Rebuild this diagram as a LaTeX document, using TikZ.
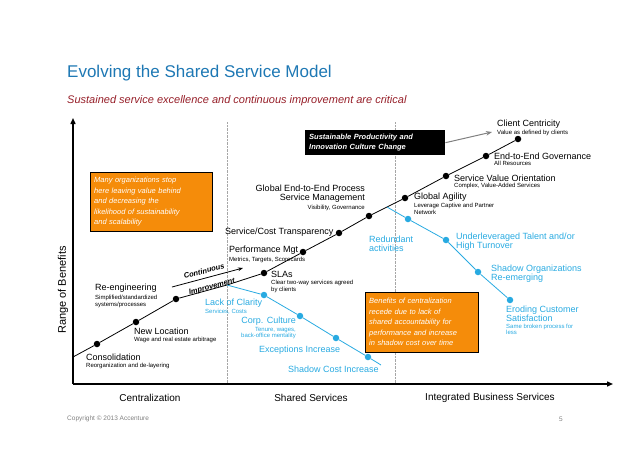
\documentclass[tikz,border=0pt]{standalone}
\usepackage{fontspec}
\setmainfont{Liberation Sans}
\usetikzlibrary{arrows.meta}
\definecolor{ttl}{RGB}{30,120,180}
\definecolor{sub}{RGB}{150,30,40}
\definecolor{cy}{RGB}{40,170,225}
\definecolor{org}{RGB}{245,140,10}
\begin{document}
\begin{tikzpicture}[x=1pt,y=-1pt,
 bd/.style={circle,fill=black,inner sep=0pt,minimum size=6.5pt},
 cd/.style={circle,fill=cy,inner sep=0pt,minimum size=6.5pt},
 lb/.style={inner sep=0pt,align=left,font=\fontsize{9}{9}\selectfont},
 sl/.style={inner sep=0pt,align=left,font=\fontsize{6}{6.5}\selectfont},
 cl/.style={inner sep=0pt,align=left,font=\fontsize{9}{8.5}\selectfont,text=cy},
 ob/.style={fill=org,draw=black,line width=0.4pt,text=white,align=left,font=\fontsize{7.5}{10.5}\selectfont\itshape,inner sep=4pt,anchor=north west}]
\useasboundingbox (0,0) rectangle (638,451);
\node[anchor=west,inner sep=0pt,text=ttl,font=\fontsize{17}{17}\selectfont] (t) at (67,73) {Evolving the Shared Service Model};
\node[anchor=west,inner sep=0pt,text=sub,font=\fontsize{11}{11}\selectfont\itshape] (s) at (67,101) {Sustained service excellence and continuous improvement are critical};
% axes
\coordinate (o) at (73,384); \coordinate (yt) at (73,118); \coordinate (xe) at (613,384);
\draw[line width=1.4pt,-{Triangle[length=6pt,width=5pt]}] (o) -- (yt);
\draw[line width=1.4pt,-{Triangle[length=6pt,width=5pt]}] (o) -- (xe);
\coordinate (d1a) at (227,122); \coordinate (d1b) at (227,383);
\coordinate (d2a) at (395,122); \coordinate (d2b) at (395,383);
\draw[gray!70,densely dotted] (d1a)--(d1b); \draw[gray!70,densely dotted] (d2a)--(d2b);
\node[rotate=90,font=\fontsize{11}{11}\selectfont] (yl) at (63,290) {Range of Benefits};
\node[font=\fontsize{10}{10}\selectfont] (x1) at (150,398) {Centralization};
\node[font=\fontsize{10}{10}\selectfont] (x2) at (311,398) {Shared Services};
\node[font=\fontsize{10}{10}\selectfont] (x3) at (490,398) {Integrated Business Services};
\node[anchor=west,inner sep=0pt,text=gray,font=\fontsize{6.5}{6.5}\selectfont] (cp) at (67,419) {Copyright © 2013 Accenture};
\node[inner sep=0pt,text=gray,font=\fontsize{6.5}{6.5}\selectfont] (pg) at (561,419) {5};
% black line
\coordinate (b0) at (73,357);
\node[bd] (b1) at (97,344) {}; \node[bd] (b2) at (136,322) {}; \node[bd] (b3) at (176,299) {};
\coordinate (br) at (227,285);
\node[bd] (b4) at (264,273) {}; \node[bd] (b5) at (303,252) {}; \node[bd] (b6) at (339,233) {};
\node[bd] (b7) at (369,216) {}; \coordinate (bg) at (387,207);
\node[bd] (b8) at (405,198) {}; \node[bd] (b9) at (446,176) {}; \node[bd] (b10) at (486,156) {}; \node[bd] (b11) at (518,139) {};
\draw[line width=0.8pt] (b0)--(b1)--(b2)--(b3)--(br)--(b4)--(b5)--(b6)--(b7)--(bg)--(b8)--(b9)--(b10)--(b11);
% cyan lines
\node[cd] (c1) at (264,295) {}; \node[cd] (c2) at (300,316) {}; \node[cd] (c3) at (336,338) {}; \node[cd] (c4) at (368,357) {};
\coordinate (ce) at (381,365);
\draw[cy,line width=0.8pt] (br)--(c1)--(c2)--(c3)--(c4)--(ce);
\node[cd] (e1) at (408,219) {}; \node[cd] (e2) at (446,240) {}; \node[cd] (e3) at (478,272) {}; \node[cd] (e4) at (510,300) {};
\draw[cy,line width=0.8pt] (bg)--(e1)--(e2)--(e3)--(e4);
% labels black
\node[lb,anchor=south west] (l1) at (86,361) {Consolidation};
\node[sl,anchor=north west] at (l1.south west) [yshift=-2pt] {Reorganization and de-layering};
\node[lb,anchor=south west] (l2) at (134,335) {New Location};
\node[sl,anchor=north west] at (l2.south west) [yshift=-2pt] {Wage and real estate arbitrage};
\node[lb,anchor=south west] (l3) at (95,293) {Re-engineering};
\node[sl,anchor=north west] at (l3.south west) [yshift=-2pt] {Simplified/standardized\\systems/processes};
\node[lb,anchor=south west] (l4) at (271,278) {SLAs};
\node[sl,anchor=north west] at (l4.south west) [yshift=-2pt] {Clear two-way services agreed\\by clients};
\node[lb,anchor=south west] (l5) at (229,255) {Performance Mgt};
\node[sl,anchor=north west] at (l5.south west) [yshift=-2pt] {Metrics, Targets, Scorecards};
\node[lb,anchor=south west] (l6) at (225,237) {Service/Cost Transparency};
\node[lb,anchor=south east,align=right] (l7) at (365,203) {Global End-to-End Process\\Service Management};
\node[sl,anchor=north east] at (l7.south east) [yshift=-2pt] {Visibility, Governance};
\node[lb,anchor=south west] (l8) at (414,202) {Global Agility};
\node[sl,anchor=north west] at (l8.south west) [yshift=-1pt] {Leverage Captive and Partner\\Network};
\node[lb,anchor=south west] (l9) at (454,182) {Service Value Orientation};
\node[sl,anchor=north west] at (l9.south west) [yshift=-1pt] {Complex, Value-Added Services};
\node[lb,anchor=south west] (l10) at (494,160) {End-to-End Governance};
\node[sl,anchor=north west] at (l10.south west) [yshift=-1pt] {All Resources};
\node[lb,anchor=south west] (l11) at (497,129) {Client Centricity};
\node[sl,anchor=north west] at (l11.south west) [yshift=-1pt] {Value as defined by clients};
% cyan labels
\node[cl,anchor=south west] (m1) at (205,308) {Lack of Clarity};
\node[sl,text=cy,anchor=north west] at (m1.south west) [yshift=-1pt] {Services, Costs};
\node[cl,anchor=south east] (m2) at (296,326) {Corp. Culture};
\node[sl,text=cy,anchor=north east,align=right] at (m2.south east) [yshift=-1pt] {Tenure, wages,\\back-office mentality};
\node[cl,anchor=west] (m3) at (259,350) {Exceptions Increase};
\node[cl,anchor=west] (m4) at (288,369) {Shadow Cost Increase};
\node[cl,anchor=north west] (n1) at (369,236) {Redundant\\activities};
\node[cl,anchor=north west] (n2) at (456,233) {Underleveraged Talent and/or\\High Turnover};
\node[cl,anchor=north west] (n3) at (491,265) {Shadow Organizations\\Re-emerging};
\node[cl,anchor=north west] (n4) at (506,306) {Eroding Customer\\Satisfaction};
\node[sl,text=cy,anchor=north west] at (n4.south west) [yshift=-2pt] {Same broken process for\\less};
% continuous improvement
\coordinate (ca) at (172,287); \coordinate (cb) at (243,268);
\draw[line width=0.8pt,-{Stealth[length=5pt]}] (ca) -- (cb);
\node[rotate=15,inner sep=0pt,font=\fontsize{7.5}{7.5}\selectfont\bfseries\itshape] (ci1) at (204,271) {Continuous};
\node[rotate=15,inner sep=0pt,font=\fontsize{7.5}{7.5}\selectfont\bfseries\itshape] (ci2) at (212,287) {Improvement};
% boxes
\node[ob,text width=114pt,minimum height=59pt] (o1) at (90,172) {Many organizations stop\\here leaving value behind\\and decreasing the\\likelihood of sustainability\\and scalability};
\node[ob,text width=105pt,minimum height=60pt] (o2) at (365,292) {Benefits of centralization\\recede due to lack of\\shared accountability for\\performance and increase\\in shadow cost over time};
\node[fill=black,text=white,align=left,font=\fontsize{7.5}{10}\selectfont\bfseries\itshape,inner sep=4pt,anchor=north west,text width=132pt] (k) at (305,130) {Sustainable Productivity and\\Innovation Culture Change};
\coordinate (kt) at (492,132);
\draw[gray,line width=1pt,-{Stealth[length=6pt]}] (k.east) -- (kt);
\end{tikzpicture}
\end{document}
